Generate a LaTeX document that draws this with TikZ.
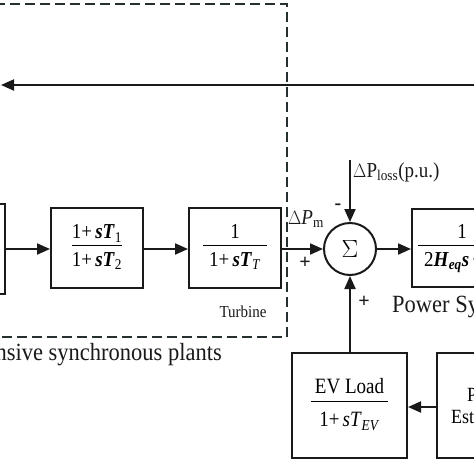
\documentclass[tikz,border=0pt]{standalone}
\usepackage{fontspec}
\setmainfont{Liberation Serif}
\usetikzlibrary{arrows.meta}
\definecolor{ink}{HTML}{1A1A1A}
\definecolor{dashc}{HTML}{263030}
\tikzset{
  blk/.style={draw=ink, line width=2pt, rectangle, inner sep=0pt, font=\fontsize{19}{21}\selectfont},
  sig/.style={draw=ink, line width=2pt, -{Triangle[length=13pt,width=11pt]}},
  frame/.style={draw=dashc, line width=2pt, dash pattern=on 10pt off 5pt},
  lbl/.style={inner sep=0pt, text=ink},
  big/.style={lbl, font=\fontsize{22.5}{25}\selectfont},
  sgn/.style={lbl, font=\bfseries\fontsize{20}{22}\selectfont},
}
\newcommand{\bi}[1]{\textbf{\textit{#1}}}
\begin{document}
\begin{tikzpicture}[x=1pt,y=-1pt]
\useasboundingbox (0,0) rectangle (474,474);
\fill[white] (0,0) rectangle (474,474);
\clip (0,0) rectangle (474,474);
% dashed frame
\draw[frame] (-20,4) -- (287,4) -- (287,337) -- (-20,337);
% blocks
\node[blk, minimum width=70pt, minimum height=90pt] (gov) at (-30,249) {};
\node[blk, minimum width=92pt, minimum height=80pt] (lead) at (97,248)
  {\scalebox{1}[1.12]{$\vcenter{\hbox{\begin{tabular}{@{}c@{}}1+\,\bi{sT}\textsubscript{1}\\[-1pt]\hline\rule{0pt}{19pt}1+\,\bi{sT}\textsubscript{2}\end{tabular}}}$}};
\node[blk, minimum width=92pt, minimum height=80pt] (turb) at (235,248)
  {\scalebox{1}[1.12]{$\vcenter{\hbox{\begin{tabular}{@{\hspace{6pt}}c@{\hspace{6pt}}}1\\[-1pt]\hline\rule{0pt}{19pt}1+\,\bi{sT}\textsubscript{\textit{T}}\end{tabular}}}$}};
\node[lbl, font=\fontsize{15}{17}\selectfont] (turblbl) at (243,312) {\scalebox{1}[1.12]{Turbine}};
\node[draw=ink, line width=2pt, circle, minimum size=52pt, inner sep=0pt, font=\fontsize{25}{27}\selectfont] (sum) at (350,249) {$\Sigma$};
\node[blk, minimum width=100pt, minimum height=78pt] (ps) at (462,248)
  {\scalebox{1}[1.12]{$\vcenter{\hbox{\begin{tabular}{@{\hspace{6pt}}c@{\hspace{6pt}}}1\\[-1pt]\hline\rule{0pt}{19pt}2\bi{H}\textsubscript{\bi{eq}}\bi{s}\,+\,\bi{D}\end{tabular}}}$}};
\node[big, anchor=west] (pslbl) at (392,307) {\scalebox{1}[1.1]{Power System}};
\node[blk, minimum width=115pt, minimum height=105pt] (ev) at (349.5,405.5)
  {\scalebox{1}[1.15]{$\vcenter{\hbox{\begin{tabular}{@{\hspace{4pt}}c@{\hspace{4pt}}}EV Load\\[0pt]\hline\rule{0pt}{22pt}1+\,\textit{sT}\textsubscript{\textit{EV}}\end{tabular}}}$}};
\node[blk, minimum width=106pt, minimum height=105pt, align=center, font=\fontsize{18}{22}\selectfont] (est) at (490,405.5) {\scalebox{1}[1.12]{Power}\\\scalebox{1}[1.12]{Estimation}};
\node[big, anchor=east] (plants) at (222,355) {\scalebox{1}[1.1]{Extensive synchronous plants}};
% labels at the summer
\coordinate (lossin) at (350,160);
\node[lbl, anchor=west, font=\fontsize{19}{21}\selectfont] (losslbl) at (353,172) {\scalebox{1}[1.12]{$\Delta$P\textsubscript{loss}(p.u.)}};
\node[lbl, font=\fontsize{19}{21}\selectfont] (pm) at (306,219) {\scalebox{1}[1.12]{$\Delta$\textit{P}\textsubscript{m}}};
\node[sgn] (minus) at (338,207) {-};
\node[sgn] (plus1) at (305,263) {+};
\node[sgn] (plus2) at (364,302) {+};
% connectors
\draw[sig] (gov.east) -- (lead.west |- gov.east);
\draw[sig] (lead.east |- 0,249) -- (turb.west |- 0,249);
\draw[sig] (turb.east |- 0,249) -- (sum.west);
\draw[sig] (sum.east) -- (ps.west |- sum.east);
\draw[sig] (lossin) -- (sum.north);
\draw[sig] (ev.north -| sum.south) -- (sum.south);
\draw[sig] (est.west |- 0,407) -- (ev.east |- 0,407);
\coordinate (fbR) at (480,85);
\coordinate (fbL) at (1,85);
\draw[sig] (fbR) -- (fbL);
\end{tikzpicture}
\end{document}
